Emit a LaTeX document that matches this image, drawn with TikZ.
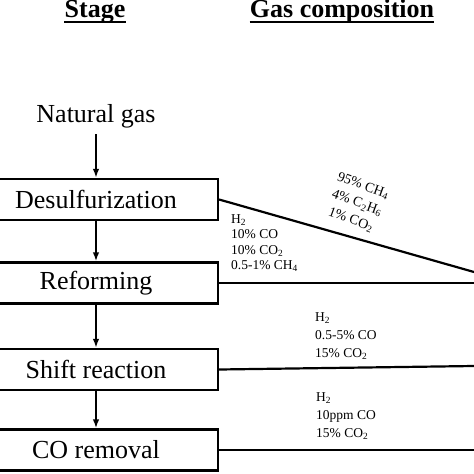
\documentclass[tikz,border=0pt]{standalone}
\usepackage{fontspec}
\setmainfont{Liberation Serif}
\usetikzlibrary{arrows.meta}
\begin{document}
\begin{tikzpicture}[x=1pt,y=-1pt,
 stagebox/.style={draw,line width=2.2pt,minimum width=244pt,minimum height=41pt,inner sep=0pt,font=\fontsize{26}{28}\selectfont},
 flow/.style={-{Latex[length=9pt,width=6.5pt]},line width=1.8pt},
 comp/.style={line width=2.2pt},
 gas/.style={inner sep=0pt,anchor=north west,align=left},
 head/.style={font=\fontsize{26}{28}\selectfont\bfseries,inner sep=0pt,anchor=base}]
\useasboundingbox (0,0) rectangle (474,474);
\clip (0,0) rectangle (474,474);
% headers
\node[head] (st) at (95,17) {Stage};
\node[head] (gc) at (342,17) {Gas composition};
\draw[line width=2pt] ([yshift=-5pt]st.base west) -- ([yshift=-5pt]st.base east);
\draw[line width=2pt] ([yshift=-5pt]gc.base west) -- ([yshift=-5pt]gc.base east);
% stages
\node[font=\fontsize{26}{28}\selectfont,inner sep=0pt] (ng) at (96,116) {Natural gas};
\node[stagebox] (des) at (96,199.5) {Desulfurization};
\node[stagebox] (ref) at (96,283) {Reforming};
\node[stagebox] (shi) at (96,369.5) {Shift reaction};
\node[stagebox] (cor) at (96,450) {CO removal};
\draw[flow,shorten <=6pt] (ng) -- (des);
\draw[flow] (des) -- (ref);
\draw[flow] (ref) -- (shi);
\draw[flow] (shi) -- (cor);
% composition lines
\coordinate (r1) at (474,272);
\coordinate (r2) at (474,283);
\coordinate (r3) at (474,366);
\coordinate (r4) at (474,452);
\draw[comp] (des.east) -- (r1);
\draw[comp] (ref.east) -- (r2);
\draw[comp] (shi.east) -- (r3);
\draw[comp] (cor.east) -- (cor.east -| r4);
% compositions
\node[font=\fontsize{14}{18}\selectfont,align=center,rotate=-20,inner sep=0pt] (g0) at (357,203)
  {95\% CH\textsubscript{4}\\4\% C\textsubscript{2}H\textsubscript{6}\\1\% CO\textsubscript{2}};
\node[gas,font=\fontsize{13.5}{15.5}\selectfont] (g1) at (231,214)
  {H\textsubscript{2}\\10\% CO\\10\% CO\textsubscript{2}\\0.5-1\% CH\textsubscript{4}};
\node[gas,font=\fontsize{13.5}{18}\selectfont] (g2) at (315,312)
  {H\textsubscript{2}\\0.5-5\% CO\\15\% CO\textsubscript{2}};
\node[gas,font=\fontsize{13.5}{18}\selectfont] (g3) at (316,392)
  {H\textsubscript{2}\\10ppm\ CO\\15\% CO\textsubscript{2}};
\end{tikzpicture}
\end{document}
